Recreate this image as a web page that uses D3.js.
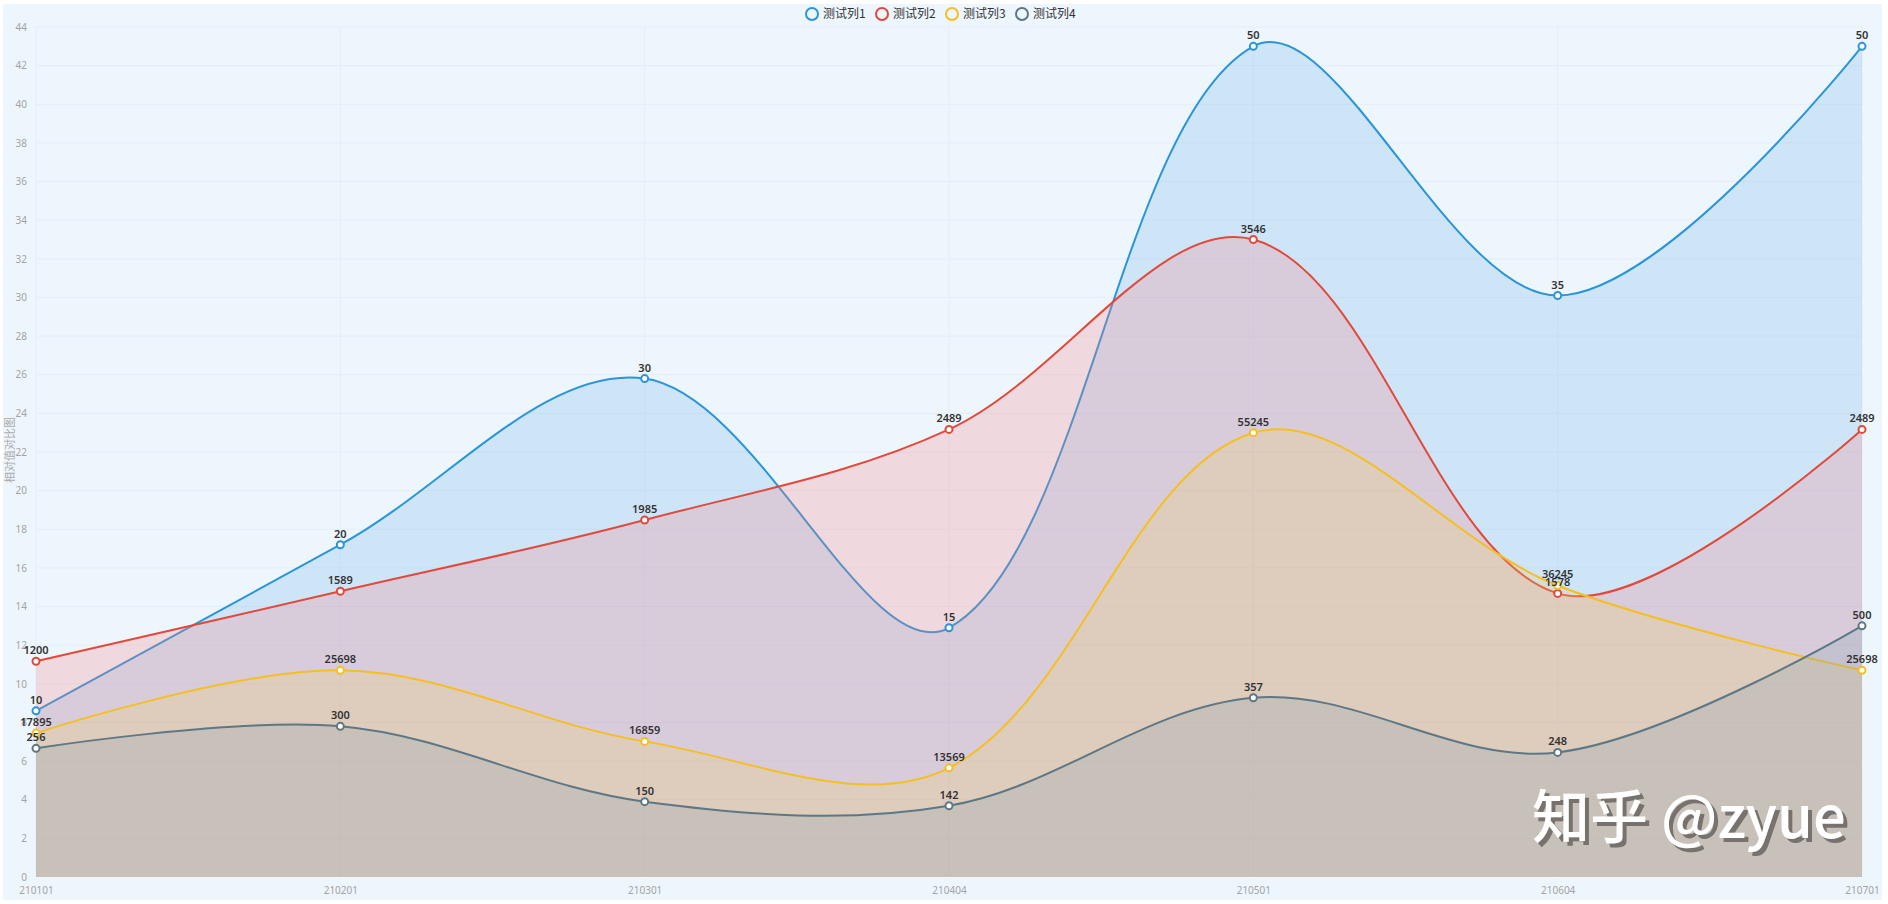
<!DOCTYPE html>
<html>
<head>
<meta charset="utf-8">
<script src="https://cdn.jsdelivr.net/npm/d3@7"></script>
<style>
  body { margin: 0; background: #fff; }
  text { font-family: "Noto Sans", "Noto Sans CJK SC", sans-serif; }
</style>
</head>
<body>
<div id="chart"></div>
<script>
// categories and series (labels = shown values, pos = plotted relative value)
const categories = ["210101", "210201", "210301", "210404", "210501", "210604", "210701"];
const seriesNames = ["测试列1", "测试列2", "测试列3", "测试列4"];
const labels1 = [10, 20, 30, 15, 50, 35, 50];
const labels2 = [1200, 1589, 1985, 2489, 3546, 1578, 2489];
const labels3 = [17895, 25698, 16859, 13569, 55245, 36245, 25698];
const labels4 = [256, 300, 150, 142, 357, 248, 500];
const pos1 = [8.6, 17.2, 25.8, 12.9, 43.0, 30.1, 43.0];
const pos2 = [11.17, 14.79, 18.48, 23.17, 33.0, 14.68, 23.17];
const pos3 = [7.45, 10.70, 7.02, 5.65, 23.0, 15.09, 10.70];
const pos4 = [6.66, 7.80, 3.90, 3.69, 9.28, 6.45, 13.0];
const yTicks = d3.range(0, 46, 2);
const yTitle = "相对值对比图";

const lineColors = ["#2b95d6", "#e2493b", "#f5bf22", "#5e7784"];
const fillColors = ["rgba(110,179,234,0.25)", "rgba(246,131,130,0.25)", "rgba(240,205,100,0.25)", "rgba(134,158,176,0.25)"];

(function () {
  const series = [
    { name: seriesNames[0], pos: pos1, labels: labels1 },
    { name: seriesNames[1], pos: pos2, labels: labels2 },
    { name: seriesNames[2], pos: pos3, labels: labels3 },
    { name: seriesNames[3], pos: pos4, labels: labels4 }
  ];

  const width = 1888, height = 904;
  const plotLeft = 36, plotRight = 1862, plotTop = 27, plotBottom = 877;

  const svg = d3.select("#chart").append("svg")
    .attr("width", width)
    .attr("height", height);

  svg.append("rect")
    .attr("x", 3).attr("y", 4)
    .attr("width", 1879).attr("height", 896)
    .attr("fill", "#eef6fd");

  const x = d3.scalePoint().domain(categories).range([plotLeft, plotRight]);
  const y = d3.scaleLinear().domain([0, 44]).range([plotBottom, plotTop]);

  // smooth curve with segment-length ratio, similar to the original renderer
  function smoothCurve(smooth) {
    return function (context) {
      return {
        _line: NaN,
        areaStart() { this._line = 0; },
        areaEnd() { this._line = NaN; },
        lineStart() { this._pts = []; },
        point(px, py) { this._pts.push([+px, +py]); },
        lineEnd() {
          const p = this._pts, n = p.length;
          if (n) {
            if (this._line) context.lineTo(p[0][0], p[0][1]);
            else context.moveTo(p[0][0], p[0][1]);
            let cp0 = p[0];
            for (let i = 1; i < n; i++) {
              const cur = p[i], prev = p[i - 1], next = p[i + 1];
              let cp1 = cur, nextCp0 = cur;
              if (next) {
                const vx = next[0] - prev[0], vy = next[1] - prev[1];
                const d0 = Math.hypot(cur[0] - prev[0], cur[1] - prev[1]);
                const d1 = Math.hypot(next[0] - cur[0], next[1] - cur[1]);
                const r = (d0 + d1) ? d1 / (d0 + d1) : 0.5;
                cp1 = [cur[0] - vx * smooth * (1 - r), cur[1] - vy * smooth * (1 - r)];
                nextCp0 = [cur[0] + vx * smooth * r, cur[1] + vy * smooth * r];
              }
              context.bezierCurveTo(cp0[0], cp0[1], cp1[0], cp1[1], cur[0], cur[1]);
              cp0 = nextCp0;
            }
          }
          if (this._line || (this._line !== 0 && n === 1)) context.closePath();
          this._line = 1 - this._line;
        }
      };
    };
  }
  const curve = smoothCurve(0.35);

  // grid
  svg.append("g")
    .selectAll("line")
    .data(yTicks.slice(1))
    .join("line")
    .attr("x1", plotLeft).attr("x2", plotRight)
    .attr("y1", d => y(d)).attr("y2", d => y(d))
    .attr("stroke", "#e4edf6");
  svg.append("g")
    .selectAll("line")
    .data(categories)
    .join("line")
    .attr("x1", d => x(d)).attr("x2", d => x(d))
    .attr("y1", plotTop).attr("y2", plotBottom)
    .attr("stroke", "#e4edf6");

  // axes
  const yAxis = svg.append("g")
    .attr("transform", `translate(${plotLeft},0)`)
    .call(d3.axisLeft(y).tickValues(yTicks).tickSize(0).tickPadding(9));
  yAxis.select(".domain").remove();
  yAxis.selectAll("text").attr("fill", "#a3a3a3").attr("font-size", 10)
    .style("font-family", "'Noto Sans', sans-serif");

  const xAxis = svg.append("g")
    .attr("transform", `translate(0,${plotBottom})`)
    .call(d3.axisBottom(x).tickSize(0).tickPadding(10));
  xAxis.select(".domain").remove();
  xAxis.selectAll("text").attr("fill", "#a3a3a3").attr("font-size", 10)
    .style("font-family", "'Noto Sans', sans-serif");

  svg.append("text")
    .attr("transform", `translate(14,450) rotate(-90)`)
    .attr("text-anchor", "middle")
    .attr("font-size", 11)
    .attr("fill", "#aaa")
    .style("font-family", "'Noto Sans CJK SC', sans-serif")
    .text(yTitle);

  // areas + lines
  const area = d3.area()
    .x((d, i) => x(categories[i]))
    .y0(plotBottom)
    .y1(d => y(d))
    .curve(curve);
  const line = d3.line()
    .x((d, i) => x(categories[i]))
    .y(d => y(d))
    .curve(curve);

  series.forEach((s, k) => {
    const g = svg.append("g");
    g.append("path")
      .attr("d", area(s.pos))
      .attr("fill", fillColors[k]);
    g.append("path")
      .attr("d", line(s.pos))
      .attr("fill", "none")
      .attr("stroke", lineColors[k])
      .attr("stroke-width", 2);
  });

  // markers + labels
  series.forEach((s, k) => {
    svg.append("g")
      .selectAll("circle")
      .data(s.pos)
      .join("circle")
      .attr("cx", (d, i) => x(categories[i]))
      .attr("cy", d => y(d))
      .attr("r", 3.5)
      .attr("fill", "#fff")
      .attr("stroke", lineColors[k])
      .attr("stroke-width", 2);
  });
  series.forEach(s => {
    svg.append("g")
      .selectAll("text")
      .data(s.pos)
      .join("text")
      .attr("x", (d, i) => x(categories[i]))
      .attr("y", d => y(d) - 7)
      .attr("text-anchor", "middle")
      .attr("font-size", 11)
      .attr("font-weight", 600)
      .attr("fill", "#333")
      .text((d, i) => s.labels[i]);
  });

  // legend
  const legend = svg.append("g")
    .selectAll("g")
    .data(series)
    .join("g")
    .attr("transform", (d, i) => `translate(${812 + i * 70},14)`);
  legend.append("circle")
    .attr("r", 6)
    .attr("fill", "none")
    .attr("stroke", (d, i) => lineColors[i])
    .attr("stroke-width", 2);
  legend.append("text")
    .attr("x", 11)
    .attr("dy", "0.36em")
    .attr("font-size", 12)
    .attr("fill", "#333")
    .style("font-family", "'Noto Sans CJK SC', sans-serif")
    .text(d => d.name);

  // watermark
  const wm = "知乎 @zyue";
  svg.append("text")
    .attr("x", 1536).attr("y", 842)
    .attr("font-size", 58)
    .attr("font-weight", 500)
    .attr("fill", "#77726d")
    .style("font-family", "'Noto Sans CJK SC', sans-serif")
    .text(wm);
  svg.append("text")
    .attr("x", 1532).attr("y", 838)
    .attr("font-size", 58)
    .attr("font-weight", 500)
    .attr("fill", "#fff")
    .style("font-family", "'Noto Sans CJK SC', sans-serif")
    .text(wm);
})();
</script>
</body>
</html>
